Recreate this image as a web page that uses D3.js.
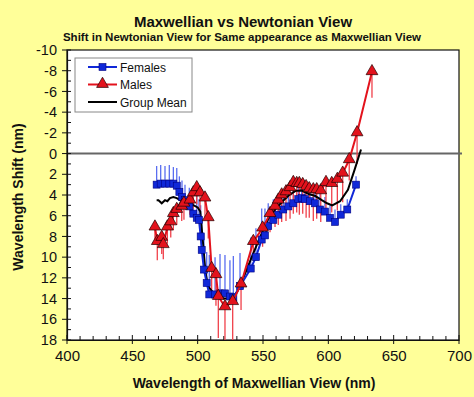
<!DOCTYPE html>
<html>
<head>
<meta charset="utf-8">
<script src="https://cdn.jsdelivr.net/npm/d3@7"></script>
<style>
body{margin:0;background:#ffff99}
svg{display:block;font-family:"Liberation Sans",Arial,sans-serif}
</style>
</head>
<body>
<div id="graph"></div>
<script>
// data (nm, shift in nm, one-sided error)
var femaleNm    = [468.6,471.7,475,478.3,481.4,484,486,488,490.3,493.6,496.7,499.3,501,502.3,503.1,504.8,506.9,508.9,513.3,517.1,520.9,524.7,527.3,532.4,540.6,544.6,549,551.5,554,557.9,561.7,565.5,569.4,573.2,577,579.6,582.1,586,589.8,593.6,597.4,601.3,605.1,609.5,614.5,621.2]
var femaleShift = [3.0,2.9,2.9,2.9,2.9,3.1,3.7,4.2,4.5,5.1,5.8,6.2,6.4,8.0,9.3,11.2,12.5,13.6,13.6,13.5,13.5,13.8,13.9,12.8,11.1,10.0,8.3,7.9,7.0,6.4,5.9,5.4,5.1,4.8,4.4,4.3,4.4,4.6,4.8,5.4,5.6,6.2,6.6,5.9,5.4,3.0]
var femaleErr   = [1.8,1.8,1.7,1.8,1.6,1.7,1.5,1.6,1.5,1.8,2.0,2.2,2.0,3.0,3.0,3.5,3.0,3.8,3.6,3.8,3.7,3.5,4.0,3.2,3.0,2.8,3.0,2.6,2.2,2.0,1.8,1.8,1.6,1.8,1.6,1.5,1.5,1.6,1.4,1.6,1.4,1.2,1.2,1.0,1.0,0.8]
var maleNm      = [467.3,469.1,472.5,473.7,476.8,479.4,481.4,484,487.8,489.5,494.1,496.7,499.3,501.8,505.6,508.1,510.7,514,515.8,520.9,526.8,533.2,542.6,549.7,555.4,559.2,561.7,564.3,567.6,570.7,573.2,575.8,577.8,580.4,583,585.4,588.5,591.1,594.2,598.2,602.6,606.9,611,616,622,633.4]
var maleShift   = [7.1,8.5,8.1,8.8,7.1,6.6,5.8,5.4,5.1,4.8,4.5,3.8,3.3,3.8,4.3,6.2,11.1,11.7,13.8,14.8,14.3,12.6,8.5,7.2,5.8,5.1,4.5,4.0,3.7,3.3,2.8,2.9,2.9,3.0,3.2,3.4,3.5,3.5,3.6,2.8,2.9,2.5,1.9,0.6,-2.0,-7.9]
var maleErr     = [1.6,1.8,1.6,1.4,1.6,1.5,1.6,1.5,1.4,1.6,1.4,1.5,1.6,1.8,2.0,2.0,2.5,3.0,4.0,5.0,4.5,2.5,1.6,1.8,1.8,2.0,2.4,2.6,2.8,3.0,3.0,2.8,3.0,2.8,3.0,2.8,3.0,2.8,3.0,3.0,2.8,3.0,2.8,2.0,3.0,2.5]
var meanNm      = [468.6,470,472.5,475,476.8,478.8,481.4,484,488,490,494,497,500,502,504,506,508,511,515,520,525,530,535,542,548,554,560,565,570,575,580,585,590,595,599,603,609,615,620,625]
var meanShift   = [4.5,4.5,4.8,4.5,4.6,4.3,4.2,4.3,4.6,4.6,4.8,5.0,5.2,5.6,8.5,11.5,12.8,13.3,13.6,14.0,14.0,13.4,12.0,9.8,8.0,6.3,5.3,4.6,4.0,3.6,3.6,3.9,4.1,4.5,4.8,5.0,4.6,3.5,1.6,-0.4]
var xDomain = [400,700]
var yDomain = [-10,18]
var legendLabels = ["Females","Males","Group Mean"]

!(function(){
"use strict"
var width = 474, height = 397
var plot = {left:67, right:459, top:50, bottom:340}
var blue = "#1028d8", red = "#e3121c"
var plain = function(d){ return String(d) } // keep ascii hyphen for negatives

var svg = d3.select("#graph").append("svg")
	.attr("width", width).attr("height", height)
svg.append("rect").attr("width", width).attr("height", height).attr("fill", "#ffff99")

var x = d3.scaleLinear().domain(xDomain).range([plot.left, plot.right])
var y = d3.scaleLinear().domain(yDomain).range([plot.top, plot.bottom])

svg.append("rect")
	.attr("x", plot.left).attr("y", plot.top)
	.attr("width", plot.right-plot.left).attr("height", plot.bottom-plot.top)
	.attr("fill", "#fff").attr("stroke", "#111").attr("stroke-width", 1.2)

svg.append("clipPath").attr("id", "clip").append("rect")
	.attr("x", plot.left).attr("y", plot.top)
	.attr("width", plot.right-plot.left).attr("height", plot.bottom-plot.top)

// zero line
svg.append("line")
	.attr("x1", plot.left).attr("x2", plot.right+3)
	.attr("y1", y(0)).attr("y2", y(0))
	.attr("stroke", "#666").attr("stroke-width", 2)

// axes
var xAxis = d3.axisBottom(x).tickValues(d3.range(400, 701, 50)).tickFormat(plain).tickSize(0).tickPadding(10)
var gx = svg.append("g").attr("transform", "translate(0," + plot.bottom + ")").call(xAxis)
gx.select(".domain").attr("stroke", "#111").attr("stroke-width", 1.2)
gx.selectAll("text").attr("font-size", 15).attr("fill", "#111").attr("font-family", "Liberation Sans, Arial")
gx.selectAll(".major").data(d3.range(400, 701, 10)).enter().append("line")
	.attr("x1", function(d){ return x(d) }).attr("x2", function(d){ return x(d) })
	.attr("y1", function(d){ return d % 50 === 0 ? -5 : -4 })
	.attr("y2", function(d){ return d % 50 === 0 ? 4 : 0 })
	.attr("stroke", "#111")

var yAxis = d3.axisLeft(y).tickValues(d3.range(-10, 19, 2)).tickFormat(plain).tickSize(0).tickPadding(10)
var gy = svg.append("g").attr("transform", "translate(" + plot.left + ",0)").call(yAxis)
gy.select(".domain").attr("stroke", "#111").attr("stroke-width", 1.2)
gy.selectAll("text").attr("font-size", 14.5).attr("fill", "#111").attr("font-family", "Liberation Sans, Arial")
gy.selectAll(".major").data(d3.range(-10, 19, 1)).enter().append("line")
	.attr("y1", function(d){ return y(d) }).attr("y2", function(d){ return y(d) })
	.attr("x1", function(d){ return d % 2 === 0 ? -5 : 0 })
	.attr("x2", 4)
	.attr("stroke", "#111")

var layer = svg.append("g").attr("clip-path", "url(#clip)")

// error bars
layer.selectAll(".fbar").data(femaleNm).enter().append("line")
	.attr("x1", function(d){ return x(d) }).attr("x2", function(d){ return x(d) })
	.attr("y1", function(d, i){ return y(femaleShift[i]) })
	.attr("y2", function(d, i){ return y(femaleShift[i] - femaleErr[i]) })
	.attr("stroke", "#5a6ef0").attr("stroke-width", 1.3)
layer.selectAll(".mbar").data(maleNm).enter().append("line")
	.attr("x1", function(d){ return x(d) }).attr("x2", function(d){ return x(d) })
	.attr("y1", function(d, i){ return y(maleShift[i]) })
	.attr("y2", function(d, i){ return y(maleShift[i] + maleErr[i]) })
	.attr("stroke", "#f0404a").attr("stroke-width", 1.3)

var line = d3.line()
	.x(function(d){ return x(d[0]) })
	.y(function(d){ return y(d[1]) })

layer.append("path")
	.datum(d3.zip(meanNm, meanShift))
	.attr("d", line).attr("fill", "none").attr("stroke", "#000").attr("stroke-width", 2)

layer.append("path")
	.datum(d3.zip(femaleNm, femaleShift))
	.attr("d", line).attr("fill", "none").attr("stroke", blue).attr("stroke-width", 2)
layer.selectAll(".fdot").data(d3.zip(femaleNm, femaleShift)).enter().append("rect")
	.attr("x", function(d){ return x(d[0]) - 3.5 }).attr("y", function(d){ return y(d[1]) - 3.5 })
	.attr("width", 7).attr("height", 7)
	.attr("fill", blue).attr("stroke", "#000080").attr("stroke-width", 0.6)

layer.append("path")
	.datum(d3.zip(maleNm, maleShift))
	.attr("d", line).attr("fill", "none").attr("stroke", red).attr("stroke-width", 2)
var tri = d3.symbol().type(d3.symbolTriangle).size(60)
layer.selectAll(".mdot").data(d3.zip(maleNm, maleShift)).enter().append("path")
	.attr("d", tri)
	.attr("transform", function(d){ return "translate(" + x(d[0]) + "," + (y(d[1]) - 0.5) + ")" })
	.attr("fill", red).attr("stroke", "#200").attr("stroke-width", 0.7)

// legend
var lg = svg.append("g")
lg.append("rect").attr("x", 75).attr("y", 58).attr("width", 117).attr("height", 54)
	.attr("fill", "#fff").attr("stroke", "#888").attr("stroke-width", 1)
var legendColors = [blue, red, "#000"]
legendLabels.forEach(function(label, i){
	var ly = 67 + i * 17.5
	lg.append("line").attr("x1", 88).attr("x2", 117).attr("y1", ly).attr("y2", ly)
		.attr("stroke", legendColors[i]).attr("stroke-width", 2)
	if (i === 0) {
		lg.append("rect").attr("x", 99).attr("y", ly - 3.5).attr("width", 7).attr("height", 7)
			.attr("fill", blue).attr("stroke", "#000080").attr("stroke-width", 0.6)
	} else if (i === 1) {
		lg.append("path").attr("d", tri).attr("transform", "translate(102.5," + (ly - 0.5) + ")")
			.attr("fill", red).attr("stroke", "#200").attr("stroke-width", 0.7)
	}
	lg.append("text").attr("x", 120).attr("y", ly + 4.5).attr("font-size", 12).attr("fill", "#111").text(label)
})

// titles
svg.append("text").attr("x", 243).attr("y", 27).attr("text-anchor", "middle")
	.attr("font-size", 15).attr("font-weight", "bold").attr("fill", "#111").text("Maxwellian vs Newtonian View")
svg.append("text").attr("x", 242).attr("y", 41).attr("text-anchor", "middle")
	.attr("font-size", 11.5).attr("font-weight", "bold").attr("fill", "#111").text("Shift in Newtonian View for Same appearance as Maxwellian View")
svg.append("text").attr("x", 254).attr("y", 388).attr("text-anchor", "middle")
	.attr("font-size", 14).attr("font-weight", "bold").attr("fill", "#111").text("Wavelength of Maxwellian View (nm)")
svg.append("text").attr("transform", "translate(23,197) rotate(-90)").attr("text-anchor", "middle")
	.attr("font-size", 14).attr("font-weight", "bold").attr("fill", "#111").text("Wavelength Shift (nm)")
}());
</script>
</body>
</html>
